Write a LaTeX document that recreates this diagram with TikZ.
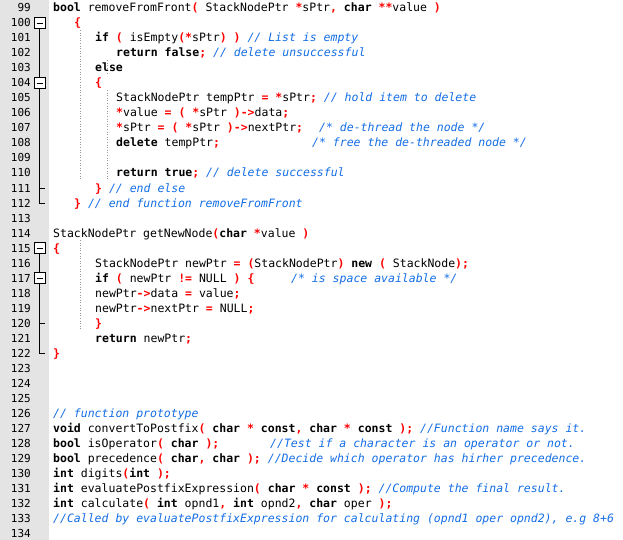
\documentclass[tikz,border=0pt]{standalone}
\usepackage{fontspec}
\setmainfont{DejaVu Sans Mono}
\definecolor{cmt}{RGB}{20,110,230}
\definecolor{gut}{RGB}{228,228,228}
\newcommand\kw[1]{\textbf{#1}}
\newcommand\op[1]{\textcolor{red}{\textbf{#1}}}
\newcommand\cm[1]{\textcolor{cmt}{\textit{#1}}}
\tikzset{ln/.style={anchor=base west,inner sep=0pt,font=\fontsize{11.5}{13}\selectfont},
num/.style={anchor=base east,inner sep=0pt,font=\fontsize{11}{13}\selectfont},
fold/.style={draw=black,line width=0.8pt},
guide/.style={draw=gray!80,dotted,line width=0.6pt}}
\newcommand\Y[1]{-(12+(#1-99)*15)}
\begin{document}
\begin{tikzpicture}[x=1pt,y=1pt]
\useasboundingbox (0,0) rectangle (623,-540);
\fill[white] (0,0) rectangle (623,-540);
\fill[gut] (0,0) rectangle (49,-540);
\foreach \n in {99,...,134}{\node[num] (n\n) at (31,{\Y{\n}}) {\n};}
% fold markers
\draw[fold] (39.5,{-(8+1*15)}) -- (39.5,{-(8+13*15)}) -- (45,{-(8+13*15)});
\draw[fold] (39.5,{-(8+12*15)}) -- (45,{-(8+12*15)});
\draw[fold] (39.5,{-(8+16*15)}) -- (39.5,{-(8+23*15)}) -- (45,{-(8+23*15)});
\draw[fold] (39.5,{-(8+21*15)}) -- (45,{-(8+21*15)});
\foreach \k in {1,5,16,18}{
 \filldraw[fold,fill=white] (34,{-(8+\k*15)-5.5}) rectangle (45,{-(8+\k*15)+5.5});
 \draw[fold] (36.5,{-(8+\k*15)}) -- (42.5,{-(8+\k*15)});}
% indent guides
\draw[guide] (80,-30) -- (80,-180);
\draw[guide] (107,-60) -- (107,-75);
\draw[guide] (107,-90) -- (107,-180);
\draw[guide] (80,-240) -- (80,-330);
% code
\node[ln] (l99) at (53,{\Y{99}}) {\kw{bool} removeFromFront\op{(} StackNodePtr \op{*}sPtr\op{,} \kw{char} \op{**}value \op{)}};
\node[ln] (l100) at (74,{\Y{100}}) {\op{\{}};
\node[ln] (l101) at (95,{\Y{101}}) {\kw{if} \op{(} isEmpty\op{(*}sPtr\op{)} \op{)} \cm{// List is empty}};
\node[ln] (l102) at (116,{\Y{102}}) {\kw{return} \kw{false}\op{;} \cm{// delete unsuccessful}};
\node[ln] (l103) at (95,{\Y{103}}) {\kw{else}};
\node[ln] (l104) at (95,{\Y{104}}) {\op{\{}};
\node[ln] (l105) at (116,{\Y{105}}) {StackNodePtr tempPtr \op{=} \op{*}sPtr\op{;} \cm{// hold item to delete}};
\node[ln] (l106) at (116,{\Y{106}}) {\op{*}value \op{=} \op{(} \op{*}sPtr \op{)->}data\op{;}};
\node[ln] (l107) at (116,{\Y{107}}) {\op{*}sPtr \op{=} \op{(} \op{*}sPtr \op{)->}nextPtr\op{;}};
\node[ln] (c107) at (319,{\Y{107}}) {\cm{/* de-thread the node */}};
\node[ln] (l108) at (116,{\Y{108}}) {\kw{delete} tempPtr\op{;}};
\node[ln] (c108) at (312,{\Y{108}}) {\cm{/* free the de-threaded node */}};
\node[ln] (l110) at (116,{\Y{110}}) {\kw{return} \kw{true}\op{;} \cm{// delete successful}};
\node[ln] (l111) at (95,{\Y{111}}) {\op{\}} \cm{// end else}};
\node[ln] (l112) at (74,{\Y{112}}) {\op{\}} \cm{// end function removeFromFront}};
\node[ln] (l114) at (53,{\Y{114}}) {StackNodePtr getNewNode\op{(}\kw{char} \op{*}value \op{)}};
\node[ln] (l115) at (53,{\Y{115}}) {\op{\{}};
\node[ln] (l116) at (95,{\Y{116}}) {StackNodePtr newPtr \op{=} \op{(}StackNodePtr\op{)} \kw{new} \op{(} StackNode\op{);}};
\node[ln] (l117) at (95,{\Y{117}}) {\kw{if} \op{(} newPtr \op{!=} NULL \op{)} \op{\{}};
\node[ln] (c117) at (291,{\Y{117}}) {\cm{/* is space available */}};
\node[ln] (l118) at (95,{\Y{118}}) {newPtr\op{->}data \op{=} value\op{;}};
\node[ln] (l119) at (95,{\Y{119}}) {newPtr\op{->}nextPtr \op{=} NULL\op{;}};
\node[ln] (l120) at (95,{\Y{120}}) {\op{\}}};
\node[ln] (l121) at (95,{\Y{121}}) {\kw{return} newPtr\op{;}};
\node[ln] (l122) at (53,{\Y{122}}) {\op{\}}};
\node[ln] (l126) at (53,{\Y{126}}) {\cm{// function prototype}};
\node[ln] (l127) at (53,{\Y{127}}) {\kw{void} convertToPostfix\op{(} \kw{char} \op{*} \kw{const}\op{,} \kw{char} \op{*} \kw{const} \op{);} \cm{//Function name says it.}};
\node[ln] (l128) at (53,{\Y{128}}) {\kw{bool} isOperator\op{(} \kw{char} \op{);}};
\node[ln] (c128) at (270,{\Y{128}}) {\cm{//Test if a character is an operator or not.}};
\node[ln] (l129) at (53,{\Y{129}}) {\kw{bool} precedence\op{(} \kw{char}\op{,} \kw{char} \op{);} \cm{//Decide which operator has hirher precedence.}};
\node[ln] (l130) at (53,{\Y{130}}) {\kw{int} digits\op{(}\kw{int} \op{);}};
\node[ln] (l131) at (53,{\Y{131}}) {\kw{int} evaluatePostfixExpression\op{(} \kw{char} \op{*} \kw{const} \op{);} \cm{//Compute the final result.}};
\node[ln] (l132) at (53,{\Y{132}}) {\kw{int} calculate\op{(} \kw{int} opnd1\op{,} \kw{int} opnd2\op{,} \kw{char} oper \op{);}};
\node[ln] (l133) at (53,{\Y{133}}) {\cm{//Called by evaluatePostfixExpression for calculating (opnd1 oper opnd2), e.g 8+6}};
\end{tikzpicture}
\end{document}
